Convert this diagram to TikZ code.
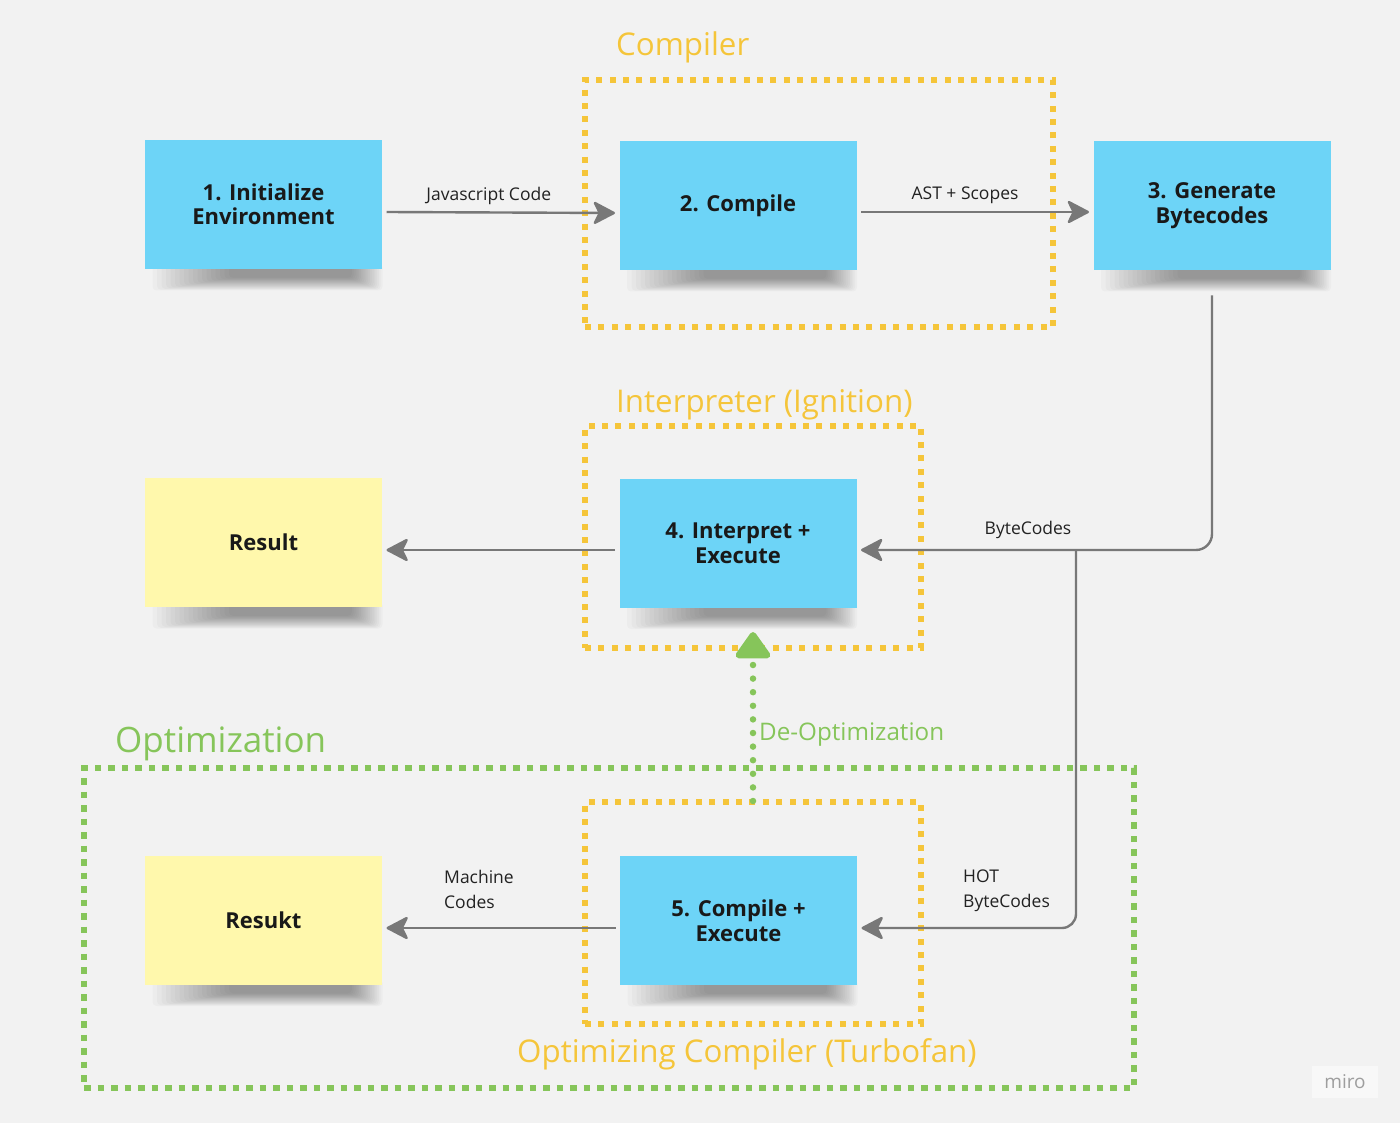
\documentclass[tikz,border=0pt]{standalone}
\usepackage{fontspec}
\setmainfont{Open Sans}
\usetikzlibrary{arrows.meta,calc}
\definecolor{bg}{HTML}{F2F2F2}
\definecolor{noteblue}{HTML}{6DD4F7}
\definecolor{noteyellow}{HTML}{FFF8AC}
\definecolor{ygold}{HTML}{F5C53A}
\definecolor{ggreen}{HTML}{86C55A}
\definecolor{linegray}{HTML}{787878}
\definecolor{txt}{HTML}{222222}
\pgfdeclarelayer{back}
\pgfdeclarelayer{shad}
\pgfsetlayers{back,shad,main}
\tikzset{
  note/.style={minimum width=237pt, minimum height=129pt, inner sep=0pt, outer sep=4.5pt,
    align=center, text=black!90, font=\fontsize{22}{25}\selectfont\bfseries},
  bluenote/.style={note, fill=noteblue},
  yellownote/.style={note, fill=noteyellow},
  ydot/.style={draw=ygold, line width=6pt, dash pattern=on 6pt off 7.4pt, inner sep=0pt, fill=none},
  gdot/.style={draw=ggreen, line width=6.5pt, dash pattern=on 6.5pt off 7pt, inner sep=0pt, fill=none},
  conn/.style={draw=linegray, line width=2.4pt, -{Stealth[length=24pt, width=25pt, inset=6pt, round]}},
  lbl/.style={text=txt, font=\fontsize{17.5}{25}\selectfont, inner sep=0pt},
  ytitle/.style={text=ygold, font=\fontsize{31.3}{36}\selectfont, inner sep=0pt},
  gtitle/.style={text=ggreen, font=\fontsize{35}{40}\selectfont, inner sep=0pt},
  shadowlayer/.style={fill=black, opacity=0.025, rounded corners=4pt},
}
\newcommand\noteshadow[1]{%
  \begin{pgfonlayer}{shad}
  \foreach \k in {0,...,17}{
    \fill[shadowlayer] ($(#1.south west)+(12+4.5*\k,-10)$) rectangle ($(#1.south east)+(-4-1.8*\k,17-0.75*\k)$);
  }
  \end{pgfonlayer}}
\begin{document}
\begin{tikzpicture}[x=1pt,y=-1pt]
\useasboundingbox (0,0) rectangle (1400,1123);
\begin{pgfonlayer}{back}
\fill[bg] (0,0) rectangle (1400,1123);
\end{pgfonlayer}

% group frames
\node[gdot, minimum width=1050pt, minimum height=320pt] (optbox) at (609,928) {};
\node[ydot, minimum width=468pt, minimum height=247pt] (compbox) at (819,203.5) {};
\node[ydot, minimum width=336pt, minimum height=222pt] (intbox) at (753,537) {};
\node[ydot, minimum width=336pt, minimum height=222pt] (turbobox) at (753,913) {};

% group titles
\node[ytitle, anchor=west] (tcomp) at (616,47) {Compiler};
\node[ytitle, anchor=west] (tint) at (616,405) {Interpreter (Ignition)};
\node[ytitle, anchor=west] (tturbo) at (517,1054) {Optimizing Compiler (Turbofan)};
\node[gtitle, anchor=west] (topt) at (115,744) {Optimization};

% notes
\node[bluenote] (b1) at (263.5,204.5) {1. Initialize\\[-0.5pt]Environment};
\node[bluenote] (b2) at (738,205.5) {2. Compile};
\node[bluenote] (b3) at (1212,205.5) {3. Generate\\[-0.5pt]Bytecodes};
\node[bluenote] (b4) at (738,543) {4. Interpret +\\Execute};
\node[yellownote] (r1) at (263.5,542.5) {Result};
\node[bluenote] (b5) at (738.5,920.5) {5. Compile +\\Execute};
\node[yellownote] (r2) at (263.5,920) {Resukt};
\noteshadow{b1}\noteshadow{b2}\noteshadow{b3}\noteshadow{b4}
\noteshadow{r1}\noteshadow{b5}\noteshadow{r2}

% connectors
\draw[conn] ([yshift=-7.5pt]b1.east) -- ([yshift=-7.5pt]b2.west)
  node[lbl, midway, above=7pt, xshift=-12pt] (ljs) {Javascript Code};
\draw[conn] ([yshift=-6.5pt]b2.east) -- ([yshift=-6.5pt]b3.west)
  node[lbl, midway, above=7pt, xshift=-10pt] (last) {AST + Scopes};
\coordinate (bcstart) at ([yshift=-21pt]b3.south);
\coordinate (b4in) at ([yshift=-7pt]b4.east);
\draw[conn, rounded corners=16pt] (bcstart) |- (b4in);
\node[lbl] (lbc) at (1028,530) {ByteCodes};
\coordinate (hotsplit) at (1076,550);
\coordinate (b5in) at ([yshift=-7.5pt]b5.east);
\draw[conn, rounded corners=14pt] (hotsplit) |- (b5in);
\node[lbl, anchor=west, align=left] (lhot) at (963,890.5) {HOT\\ByteCodes};
\draw[conn] ([yshift=-7pt]b4.west) -- ([yshift=-7.5pt]r1.east);
\draw[conn] ([yshift=-7.5pt]b5.west) -- ([yshift=-8pt]r2.east);
\node[lbl, anchor=west, align=left] (lmc) at (444,889) {Machine\\Codes};

% de-optimization
\coordinate (deoS) at (753,801);
\coordinate (deoE) at (753,632);
\draw[draw=ggreen, line width=6.5pt, line cap=round, dash pattern=on 0pt off 13.6pt,
  -{Triangle[length=29pt, width=39pt, round]}] (deoS) -- (deoE);
\node[text=ggreen, font=\fontsize{24.2}{28}\selectfont, inner sep=0pt, anchor=west] (ldeo) at (759,735) {De-Optimization};

% miro badge
\node[fill=white!45!bg, minimum width=66pt, minimum height=32pt, inner sep=0pt,
  text=black!38, font=\fontsize{19}{22}\selectfont] (miro) at (1345,1082) {miro};
\end{tikzpicture}
\end{document}
